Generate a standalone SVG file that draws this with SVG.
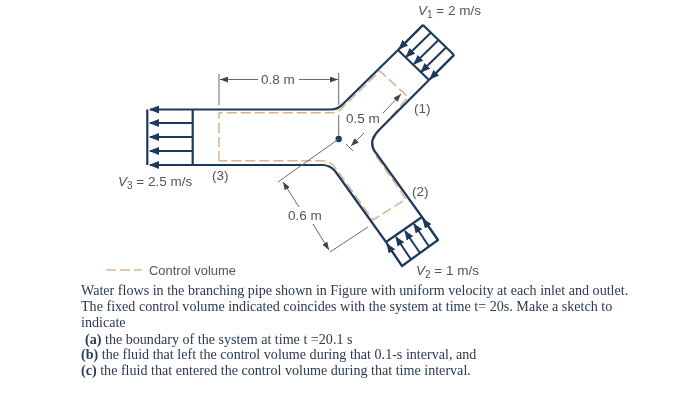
<svg xmlns="http://www.w3.org/2000/svg" width="700" height="402" viewBox="0 0 700 402">
<defs>
<marker id="flow" viewBox="0 0 10 8" refX="9" refY="4" markerWidth="10" markerHeight="8" markerUnits="userSpaceOnUse" orient="auto"><path d="M0 0L10 4L0 8Z" fill="#1f3a5c"/></marker>
<marker id="dim" viewBox="0 0 8 6" refX="8" refY="3" markerWidth="8" markerHeight="6" markerUnits="userSpaceOnUse" orient="auto"><path d="M0 0L8 3L0 6Z" fill="#444"/></marker>
<filter id="soft" x="-5%" y="-5%" width="110%" height="110%"><feGaussianBlur stdDeviation="0.35"/></filter>
</defs>
<style>
.pipe{fill:none;stroke:#1f3a5c;stroke-width:2.2;stroke-linejoin:round}
.flow{fill:none;stroke:#1f3a5c;stroke-width:2;marker-end:url(#flow)}
.cv{fill:none;stroke:#d9b58e;stroke-width:1.5;stroke-dasharray:10 4}
.dimline{fill:none;stroke:#6a6a6a;stroke-width:1}
.arrow{marker-end:url(#dim)}
.lab{font:13.5px "Liberation Sans",Arial,sans-serif;fill:#555}
.sub{font-size:10px}
.it{font-style:italic}
.body{font:14.1px "Liberation Serif","Times New Roman",serif;fill:#2b3a4c}
.b{font-weight:bold}
</style>
<rect width="700" height="402" fill="#fff"/>
<g filter="url(#soft)">
<g id="control-volume">
<path class="cv" d="M219 161V112.7H333Q338 112.7 342 108L380 71L408 97L380 130Q368 142 376 156L406 199L373 220L337 170Q331 160.7 322 160.7H219"/>
</g>
<g id="pipe">
<path class="pipe" d="M193 109.5H331Q338 109.5 343 104L398 50"/>
<path class="pipe" d="M429 80L379 130Q367 142 376 153L422 217"/>
<path class="pipe" d="M386 242L335 171Q330 165 322 165H193"/>
<circle cx="338.7" cy="139" r="3.2" fill="#1f3a5c"/>
</g>
<g id="flow-3">
<path class="pipe" d="M147.3 109.5V165M192.7 109.5V165"/>
<path class="flow" d="M193 109.5H150"/><path class="flow" d="M193 123H150"/><path class="flow" d="M193 137H150"/><path class="flow" d="M193 151H150"/><path class="flow" d="M193 165H150"/>
</g>
<g id="flow-1">
<path class="pipe" d="M423 25L454 55M398 50L429 80M398 50L423 25M429 80L454 55"/>
<path class="flow" d="M423 25L399 49"/><path class="flow" d="M431 32.5L406 57"/><path class="flow" d="M438.5 40L414 64"/><path class="flow" d="M446 47.5L421 72"/><path class="flow" d="M454 55L430 79"/>
</g>
<g id="flow-2">
<path class="pipe" d="M386 242L422 217L438 240L402 266Z"/>
<path class="flow" d="M402 266L387 244"/><path class="flow" d="M411 259.5L396 237"/><path class="flow" d="M420 253L405 231"/><path class="flow" d="M429 246.5L414 224"/><path class="flow" d="M438 240L423 219"/>
</g>
<g id="connectors">
<path class="dimline" d="M219 74V105M338.7 73V105M338.7 115V136"/>
<path class="dimline arrow" d="M258 79.5H220"/><path class="dimline arrow" d="M299 79.5H338"/>
<path class="dimline arrow" d="M383 113L401 94"/><path class="dimline arrow" d="M364 133L351 146"/>
<path class="dimline" d="M346 144L353 151"/>
<path class="dimline" d="M338.7 139L278 182M330 252L368 227"/>
<path class="dimline arrow" d="M299 207L283 182"/><path class="dimline arrow" d="M313 224L329 250"/>
<path class="cv" d="M106 270H142"/>
</g>
<g id="labels">
<text class="lab" x="261" y="84">0.8 m</text>
<text class="lab" x="346" y="123">0.5 m</text>
<text class="lab" x="288" y="220">0.6 m</text>
<text class="lab" x="414" y="113">(1)</text>
<text class="lab" x="412" y="196">(2)</text>
<text class="lab" x="212" y="180">(3)</text>
<text class="lab" x="418" y="15"><tspan class="it">V</tspan><tspan class="sub" dy="3">1</tspan><tspan dy="-3"> = 2 m/s</tspan></text>
<text class="lab" x="118" y="186"><tspan class="it">V</tspan><tspan class="sub" dy="3">3</tspan><tspan dy="-3"> = 2.5 m/s</tspan></text>
<text class="lab" x="416" y="275"><tspan class="it">V</tspan><tspan class="sub" dy="3">2</tspan><tspan dy="-3"> = 1 m/s</tspan></text>
<text class="lab" x="149" y="275" textLength="87" lengthAdjust="spacingAndGlyphs">Control volume</text>
</g>
<g id="problem-text">
<text class="body" x="81" y="295">Water flows in the branching pipe shown in Figure with uniform velocity at each inlet and outlet.</text>
<text class="body" x="81" y="311">The fixed control volume indicated coincides with the system at time t= 20s. Make a sketch to</text>
<text class="body" x="81" y="327">indicate</text>
<text class="body" x="85" y="344"><tspan class="b">(a)</tspan> the boundary of the system at time t =20.1 s</text>
<text class="body" x="81" y="359"><tspan class="b">(b)</tspan> the fluid that left the control volume during that 0.1-s interval, and</text>
<text class="body" x="81" y="375"><tspan class="b">(c)</tspan> the fluid that entered the control volume during that time interval.</text>
</g>
</g>
</svg>
